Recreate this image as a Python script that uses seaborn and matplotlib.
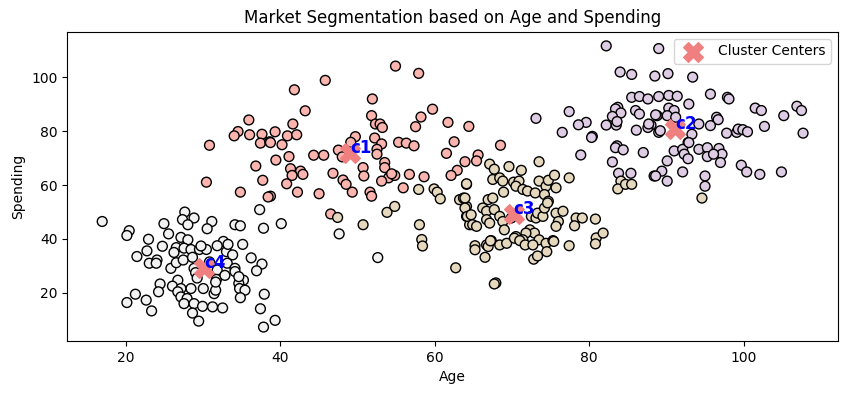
"""
Market segmentation scatter: customers by age and spending, coloured by cluster
"""

import numpy as np
import pandas as pd
import matplotlib
matplotlib.use("Agg")
import matplotlib.pyplot as plt
import seaborn as sns

# --- cluster 1 (salmon) ---
c1_age = [35.9, 34.5, 34.0, 36.0, 37.6, 39.3, 30.8, 37.4, 38.6, 41.8, 45.8, 54.9, 57.9, 51.9,
          43.2, 59.7, 58.2, 57.5, 61.7, 64.4, 51.8, 52.3, 52.9, 53.2, 41.6, 40.9, 42.1, 49.7,
          52.2, 55.3, 56.3, 57.3, 62.5, 40.2, 38.7, 39.4, 41.1, 41.3, 42.6, 42.9, 41.5, 40.8,
          42.2, 38.7, 44.3, 45.6, 46.8, 48.1, 48.5, 49.3, 45.0, 46.5, 49.1, 50.7, 50.8, 51.6,
          51.8, 53.1, 52.5, 52.5, 53.5, 53.5, 54.0, 53.1, 54.8, 54.4, 55.9, 56.7, 58.6, 61.5,
          63.9, 62.9, 62.1, 68.5, 65.6, 65.4, 30.4, 36.8, 37.7, 34.8, 38.4, 47.5, 48.0]
c1_spend = [84.2, 79.9, 78.3, 78.7, 78.9, 79.8, 74.8, 75.6, 76.1, 95.4, 98.9, 104.2, 101.5, 92.0,
            87.6, 88.2, 85.3, 81.7, 83.3, 81.8, 85.8, 82.7, 82.7, 81.4, 82.7, 78.3, 78.7, 78.0,
            77.5, 75.9, 75.6, 74.6, 76.1, 75.0, 75.8, 69.3, 70.6, 66.1, 65.2, 64.0, 63.6, 60.5,
            57.4, 55.9, 71.1, 71.1, 64.4, 61.9, 60.3, 57.4, 56.8, 49.3, 75.9, 66.5, 63.4, 57.4,
            55.9, 75.3, 73.3, 71.5, 68.4, 66.5, 62.7, 61.5, 63.6, 64.2, 59.0, 64.0, 63.1, 71.8,
            68.7, 65.5, 63.6, 74.8, 71.2, 69.0, 61.1, 67.1, 61.8, 57.4, 55.6, 73.0, 70.5]

# --- cluster 2 (lavender) ---
c2_age = [82.2, 89.0, 84.0, 85.5, 88.5, 85.5, 86.5, 87.6, 89.0, 83.7, 83.4, 84.1, 83.0, 86.0,
          86.5, 88.8, 77.4, 73.1, 79.6, 78.6, 82.2, 83.5, 83.6, 76.5, 80.4, 86.1, 88.0, 87.6,
          89.0, 83.6, 90.2, 93.4, 95.7, 97.9, 98.1, 90.3, 91.4, 92.9, 90.3, 91.0, 88.6, 90.1,
          91.2, 96.5, 96.7, 95.7, 101.5, 102.3, 105.2, 106.9, 107.5, 102.7, 97.8, 99.1, 99.3,
          99.9, 100.5, 94.2, 93.3, 92.8, 107.7, 89.2, 87.7, 91.0, 92.1, 92.3, 92.8, 92.9, 94.2,
          95.3, 96.8, 97.2, 95.3, 97.0, 96.1, 90.1, 89.4, 88.4, 90.1, 92.1, 95.0, 95.0, 99.7,
          100.4, 102.1, 104.9, 80.3, 78.9, 83.4, 84.4, 87.0, 83.0, 83.8, 85.4, 88.6]
c2_spend = [111.7, 110.7, 102.0, 101.1, 100.5, 92.6, 92.9, 92.0, 92.9, 88.9, 88.3, 86.8, 85.5,
            87.7, 86.4, 85.8, 87.3, 84.8, 83.3, 82.4, 82.3, 82.3, 83.6, 79.6, 78.1, 80.4, 82.3,
            81.4, 79.6, 74.6, 101.4, 100.1, 93.8, 92.6, 92.0, 93.3, 93.0, 90.1, 88.6, 87.7, 86.1,
            85.8, 85.2, 85.2, 84.3, 82.1, 88.6, 87.7, 85.8, 89.3, 87.7, 81.8, 79.3, 79.6, 80.8,
            80.6, 79.8, 82.7, 78.9, 75.8, 79.3, 80.2, 82.7, 72.7, 73.3, 71.5, 69.8, 75.8, 73.3,
            73.9, 73.6, 71.5, 70.6, 68.4, 71.5, 69.0, 65.2, 63.4, 61.5, 64.9, 63.4, 59.6, 67.4,
            64.9, 64.0, 64.9, 77.7, 71.2, 73.9, 73.1, 72.1, 68.6, 64.4, 64.4, 63.4]

# --- cluster 3 (beige) ---
c3_age = [47.4, 50.7, 53.8, 54.8, 57.9, 58.0, 58.3, 58.4, 59.9, 60.3, 60.7, 63.2, 63.7, 64.1,
          64.1, 64.5, 64.1, 62.7, 67.1, 67.7, 69.6, 71.2, 73.5, 64.1, 67.5, 68.4, 68.8, 70.2,
          70.9, 68.9, 70.5, 71.4, 72.0, 73.0, 73.5, 74.4, 74.7, 75.5, 75.7, 77.4, 74.2, 74.7,
          63.9, 63.9, 64.2, 64.7, 64.9, 65.4, 66.9, 67.5, 66.2, 66.7, 67.7, 66.7, 67.1, 68.4,
          68.8, 69.0, 72.5, 73.1, 73.3, 74.0, 74.2, 74.6, 75.7, 76.6, 76.0, 75.7, 78.3, 79.1,
          78.1, 80.8, 80.9, 81.8, 72.3, 72.9, 71.8, 70.5, 71.4, 73.5, 74.4, 75.3, 67.3, 65.2,
          66.7, 68.4, 69.3, 77.4, 69.9, 65.2, 66.5, 66.9, 67.2, 67.9, 67.7, 70.3, 71.0, 71.7,
          72.7, 72.8, 73.3, 74.5, 75.4, 80.8, 94.6, 84.1, 83.7, 84.7, 85.5]
c3_spend = [48.0, 45.3, 49.9, 52.1, 58.4, 45.3, 39.8, 37.4, 58.6, 57.4, 54.9, 54.6, 55.2, 52.1,
            48.4, 45.3, 60.3, 29.3, 67.8, 65.9, 66.9, 65.5, 68.7, 60.5, 62.1, 62.7, 61.5, 61.1,
            61.5, 57.4, 59.6, 58.4, 57.8, 57.1, 61.5, 59.6, 61.8, 63.7, 59.0, 62.7, 56.5, 54.0,
            55.2, 51.5, 48.4, 49.0, 45.3, 44.7, 54.6, 55.2, 51.5, 50.3, 50.9, 47.2, 45.9, 48.4,
            46.5, 43.4, 48.4, 47.8, 49.6, 48.4, 51.5, 53.4, 49.6, 50.3, 46.5, 44.7, 47.8, 47.8,
            44.9, 47.4, 40.4, 42.2, 43.4, 42.2, 42.2, 40.9, 39.7, 39.7, 38.4, 39.4, 39.4, 37.5,
            37.8, 37.8, 38.4, 37.5, 47.8, 36.0, 33.2, 37.2, 39.3, 23.7, 23.3, 40.3, 39.4, 37.8,
            37.8, 32.5, 33.7, 35.3, 39.1, 38.2, 55.2, 61.5, 58.6, 60.3, 60.3]

# --- cluster 4 (light grey) ---
c4_age = [16.9, 20.4, 20.1, 22.9, 24.9, 25.5, 27.6, 27.3, 28.8, 28.0, 27.1, 28.0, 31.1, 30.5,
          34.1, 34.8, 32.6, 31.8, 35.1, 37.8, 37.3, 24.7, 26.5, 27.5, 28.4, 29.5, 30.4, 22.7,
          21.4, 23.0, 24.0, 23.9, 33.0, 33.8, 37.6, 36.9, 25.8, 26.5, 27.4, 28.6, 28.8, 31.8,
          31.7, 33.1, 34.1, 34.1, 35.2, 34.6, 34.7, 35.4, 34.8, 37.9, 37.4, 37.8, 39.3, 28.4,
          30.0, 31.4, 31.6, 26.7, 26.0, 27.1, 26.7, 27.1, 27.9, 27.5, 28.8, 29.9, 28.6, 29.4,
          31.2, 32.5, 24.4, 24.2, 21.2, 20.1, 22.6, 23.3, 31.6, 34.6, 40.1, 47.6, 52.6, 29.0,
          30.8, 26.2, 29.7, 33.2, 29.2, 32.8, 36.2]
c4_spend = [46.5, 43.1, 41.3, 39.9, 45.7, 41.9, 50.0, 47.2, 47.8, 45.3, 40.6, 39.7, 46.5, 43.8,
            45.3, 44.9, 39.1, 37.5, 38.0, 44.0, 50.9, 37.3, 36.8, 36.6, 36.1, 36.1, 36.1, 35.6,
            33.5, 31.0, 32.2, 31.0, 35.3, 34.1, 30.7, 28.2, 29.1, 31.2, 32.2, 33.2, 29.1, 28.5,
            25.0, 31.0, 29.1, 27.9, 24.7, 23.5, 21.6, 21.0, 18.2, 19.5, 14.1, 7.3, 9.8, 21.6,
            21.6, 19.7, 21.0, 24.7, 22.5, 21.6, 20.4, 18.5, 17.9, 16.0, 16.0, 15.0, 12.5, 9.5,
            14.8, 14.4, 23.3, 20.4, 19.5, 16.4, 17.3, 13.3, 24.0, 26.0, 45.7, 41.9, 33.1, 27.5,
            31.5, 35.0, 37.4, 38.0, 25.5, 26.5, 33.0]

# cluster centres (age, spending)
center_names = ["c1", "c2", "c3", "c4"]
center_age = [49.0, 91.1, 70.2, 30.1]
center_spend = [71.8, 80.8, 49.4, 29.1]


def build_frame():
    """Stack the four clusters into one long dataframe"""
    parts = []
    for k, (ages, spends) in enumerate([(c1_age, c1_spend), (c2_age, c2_spend),
                                        (c3_age, c3_spend), (c4_age, c4_spend)]):
        parts.append(pd.DataFrame({"Age": ages, "Spending": spends, "Cluster": k}))
    return pd.concat(parts, ignore_index=True)


def main():
    df = build_frame()

    # Pastel1 sampled at label/3, like c=labels with cmap='Pastel1'
    cmap = plt.get_cmap("Pastel1")
    palette = [cmap(v) for v in np.linspace(0, 1, 4)]

    fig = plt.figure(figsize=(8.5, 3.93), dpi=100)
    ax = fig.add_axes([0.079, 0.132, 0.907, 0.787])

    sns.scatterplot(data=df, x="Age", y="Spending", hue="Cluster", palette=palette,
                    s=50, edgecolor="black", linewidth=1, legend=False, ax=ax)

    # centres drawn with plain scatter so the legend keeps the full marker size
    ax.scatter(center_age, center_spend, marker="X", s=200, c="lightcoral",
               label="Cluster Centers")
    for name, x, y in zip(center_names, center_age, center_spend):
        ax.text(x, y, name, color="blue", fontsize=12, fontweight="bold")

    ax.set_title("Market Segmentation based on Age and Spending")
    ax.set_xlabel("Age")
    ax.set_ylabel("Spending")
    ax.legend(loc="upper right")

    fig.savefig("out.png", dpi=100)


if __name__ == "__main__":
    main()
